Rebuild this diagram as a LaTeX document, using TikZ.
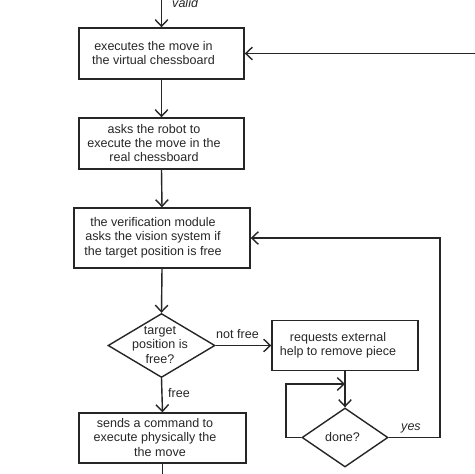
\documentclass[tikz,border=0pt]{standalone}
\usepackage{fontspec}
\setmainfont{Liberation Sans}
\usetikzlibrary{arrows.meta,shapes.geometric}

\tikzset{
    box/.style={draw=black!85, line width=1.2pt, inner sep=0pt},
    decision/.style={draw=black!85, diamond, line width=1.2pt, inner sep=0pt},
    txt/.style={align=center, inner sep=0pt, font=\fontsize{10.7}{12.3}\selectfont, text=black!85},
    lbl/.style={inner sep=0pt, font=\fontsize{10.7}{12.3}\selectfont, text=black!85},
    flow/.style={draw=black!85, line width=1.2pt, -{Straight Barb[length=2mm,width=3.8mm]}},
}

\begin{document}
\begin{tikzpicture}[x=0.03cm,y=-0.03cm]
    \useasboundingbox (0,0) rectangle (474,474);
    % boxes of the main column
    \node[box, minimum width=4.95cm, minimum height=1.53cm] (exec) at (161.5,53.5) {};
    \node[txt] (execT) at (153.5,53) {executes the move in\\the virtual chessboard};
    \node[box, minimum width=4.95cm, minimum height=1.53cm] (robot) at (161.5,143.5) {};
    \node[txt] (robotT) at (154,143) {asks the robot to\\execute the move in the\\real chessboard};
    \node[box, minimum width=5.28cm, minimum height=1.8cm] (verif) at (162,238) {};
    \node[txt] (verifT) at (153,237.5) {the verification module\\asks the vision system if\\the target position is free};
    \node[decision, minimum width=3.21cm, minimum height=1.92cm] (target) at (161.5,345.5) {};
    \node[txt] (targetT) at (160,345) {target\\position is\\free?};
    \node[box, minimum width=5.01cm, minimum height=1.5cm] (cmd) at (162.5,438) {};
    \node[txt] (cmdT) at (155,437.5) {sends a command to\\execute physically the\\\hspace*{0.3cm}the move};
    % side branch
    \node[box, minimum width=4.38cm, minimum height=1.5cm] (req) at (345,345.5) {};
    \node[txt] (reqT) at (338,345.5) {requests external\\help to remove piece};
    \node[decision, minimum width=2.58cm, minimum height=1.77cm] (done) at (345,437.5) {};
    \node[txt] (doneT) at (342.5,437) {done?};

    \coordinate (start) at (161.5,-3);
    \coordinate (topin) at (478,53.5);
    \coordinate (loop) at (286,384);
    \coordinate (back) at (440,238);
    \coordinate (out) at (162.5,478);

    % connectors
    \draw[flow] (start) -- (exec.north);
    \draw[flow] (topin) -- (exec.east);
    \draw[flow] (exec.south) -- (robot.north);
    \draw[flow] (robot.south) -- (verif.north);
    \draw[flow] (verif.south) -- (target.north);
    \draw[flow] (target.south) -- (cmd.north);
    \draw[flow] (target.east) -- (req.west);
    \draw[flow] (req.south) -- (done.north);
    \draw[flow] (done.west) -| (loop) -- (loop -| req.south);
    \draw[flow] (done.east) -| (back) -- (verif.east);
    \draw[draw=black!85, line width=1.2pt] (cmd.south) -- (out);

    % labels
    \node[lbl, anchor=base west, font=\fontsize{10.7}{12.3}\selectfont\itshape] (valid) at (172,7) {valid};
    \node[lbl, anchor=base west] (notfree) at (216,338) {not free};
    \node[lbl, anchor=base west] (free) at (168,397) {free};
    \node[lbl, anchor=base west, font=\fontsize{10.7}{12.3}\selectfont\itshape] (yes) at (401,430) {yes};
\end{tikzpicture}
\end{document}
